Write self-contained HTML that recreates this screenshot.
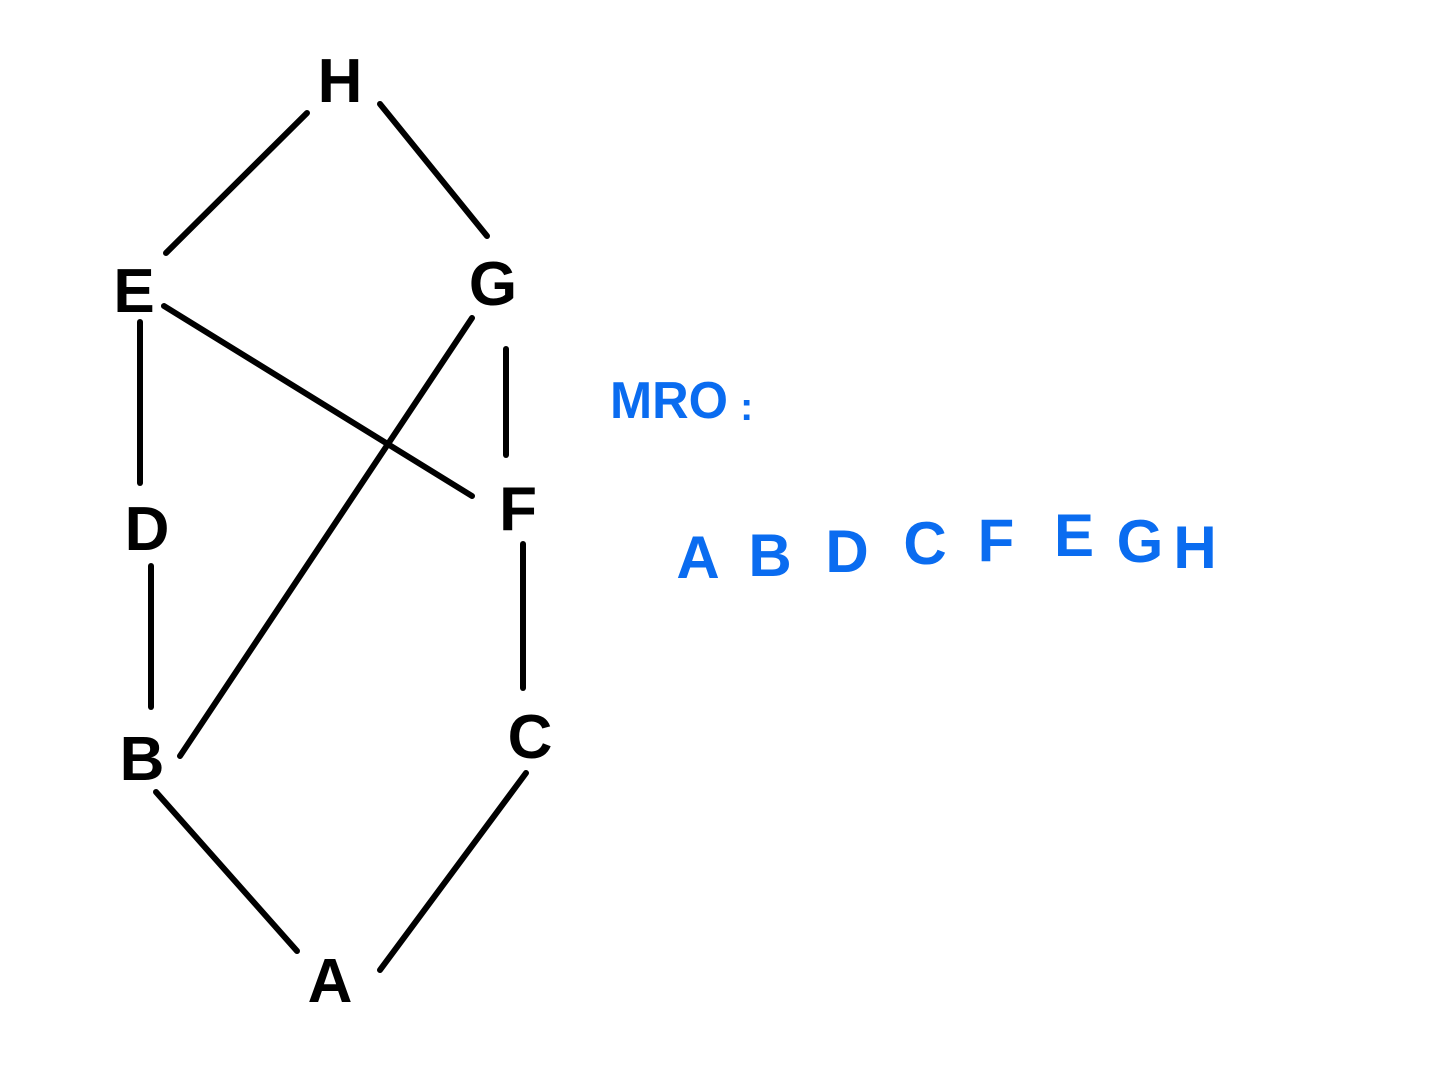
<!DOCTYPE html>
<html><head><meta charset="utf-8"><style>
html,body{margin:0;padding:0;background:#fff;}
svg{display:block}
text{font-family:"Liberation Sans",sans-serif;}
</style></head><body>
<svg width="1440" height="1070" viewBox="0 0 1440 1070">
<g stroke="#000" stroke-width="6" stroke-linecap="round" fill="none">
<line x1="307" y1="113" x2="166" y2="253"/>
<line x1="380" y1="104" x2="487" y2="236"/>
<line x1="140" y1="322" x2="140" y2="483"/>
<line x1="164" y1="306" x2="472" y2="496"/>
<line x1="472" y1="318" x2="180" y2="756"/>
<line x1="506" y1="349" x2="506" y2="455"/>
<line x1="151" y1="566" x2="151" y2="707"/>
<line x1="523" y1="544" x2="523" y2="688"/>
<line x1="156" y1="792" x2="297" y2="951"/>
<line x1="526" y1="773" x2="380" y2="970"/>
</g>
<g fill="#000" font-size="62" text-anchor="middle" font-weight="bold">
<text x="340" y="102">H</text>
<text x="134" y="312">E</text>
<text x="493" y="305">G</text>
<text x="147" y="550">D</text>
<text x="518" y="530">F</text>
<text x="142" y="780">B</text>
<text x="530" y="758">C</text>
<text x="330" y="1002">A</text>
</g>
<g fill="#0a6cf0" font-weight="bold">
<text x="610" y="418" font-size="52" textLength="118" lengthAdjust="spacingAndGlyphs">MRO</text>
<text x="740" y="420" font-size="40">:</text>
<g font-size="60" text-anchor="middle">
<text x="698" y="578">A</text>
<text x="770" y="576">B</text>
<text x="847" y="572">D</text>
<text x="925" y="564">C</text>
<text x="996" y="561">F</text>
<text x="1074" y="556">E</text>
<text x="1140" y="562">G</text>
<text x="1195" y="568">H</text>
</g>
</g>
</svg>
</body></html>
